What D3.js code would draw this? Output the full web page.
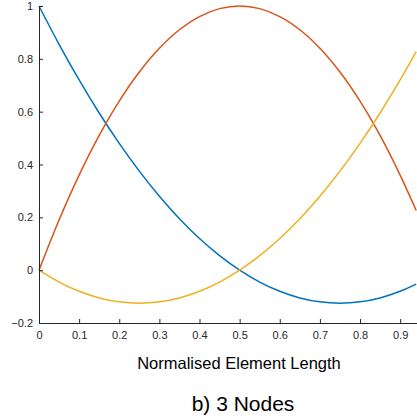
<!DOCTYPE html>
<html><head><meta charset="utf-8">
<script src="https://cdn.jsdelivr.net/npm/d3@7"></script>
<style>body{margin:0;background:#fff}</style>
</head><body>
<script>
var xs = [0,.05,.1,.15,.2,.25,.3,.35,.4,.45,.5,.55,.6,.65,.7,.75,.8,.85,.9,.94];
var node1 = [1,.855,.72,.595,.48,.375,.28,.195,.12,.055,0,-.045,-.08,-.105,-.12,-.125,-.12,-.105,-.08,-.053];
var node2 = [0,.19,.36,.51,.64,.75,.84,.91,.96,.99,1,.99,.96,.91,.84,.75,.64,.51,.36,.226];
var node3 = [0,-.045,-.08,-.105,-.12,-.125,-.12,-.105,-.08,-.045,0,.055,.12,.195,.28,.375,.48,.595,.72,.827];
var colors = ['#0072bd','#d95319','#edb120'];
var xTicks = [0,.1,.2,.3,.4,.5,.6,.7,.8,.9];
var yTicks = [-0.2,0,0.2,0.4,0.6,0.8,1];

var svg = d3.select('body').append('svg').attr('width',417).attr('height',417)
    .style('font-family','Arial, Liberation Sans, sans-serif');
var x = d3.scaleLinear().domain([0,0.942]).range([39,417]);
var y = d3.scaleLinear().domain([-0.2,1]).range([323,6]);

var line = d3.line().x(function(d,i){return x(xs[i]);}).y(function(d){return y(d);})
    .curve(d3.curveCatmullRom);
[node1,node2,node3].forEach(function(s,k){
    svg.append('path').attr('d',line(s)).attr('fill','none')
        .attr('stroke',colors[k]).attr('stroke-width',1.5);
});

var gx = svg.append('g').attr('transform','translate(0,323)')
    .call(d3.axisBottom(x).tickValues(xTicks).tickSizeInner(-4).tickSizeOuter(0).tickPadding(8)
        .tickFormat(d3.format('')));
var gy = svg.append('g').attr('transform','translate(39,0)')
    .call(d3.axisLeft(y).tickValues(yTicks).tickSizeInner(-4).tickSizeOuter(0).tickPadding(6)
        .tickFormat(d3.format('')));
[gx,gy].forEach(function(g){
    g.selectAll('path,line').attr('stroke','#262626');
    g.selectAll('text').attr('fill','#262626').style('font-size','11px');
});

svg.append('text').attr('x',239).attr('y',369).attr('text-anchor','middle')
    .style('font-size','16.5px').attr('fill','#000').text('Normalised Element Length');
svg.append('text').attr('x',243).attr('y',411).attr('text-anchor','middle')
    .style('font-size','21px').attr('fill','#000').text('b) 3 Nodes');
</script>
</body></html>
